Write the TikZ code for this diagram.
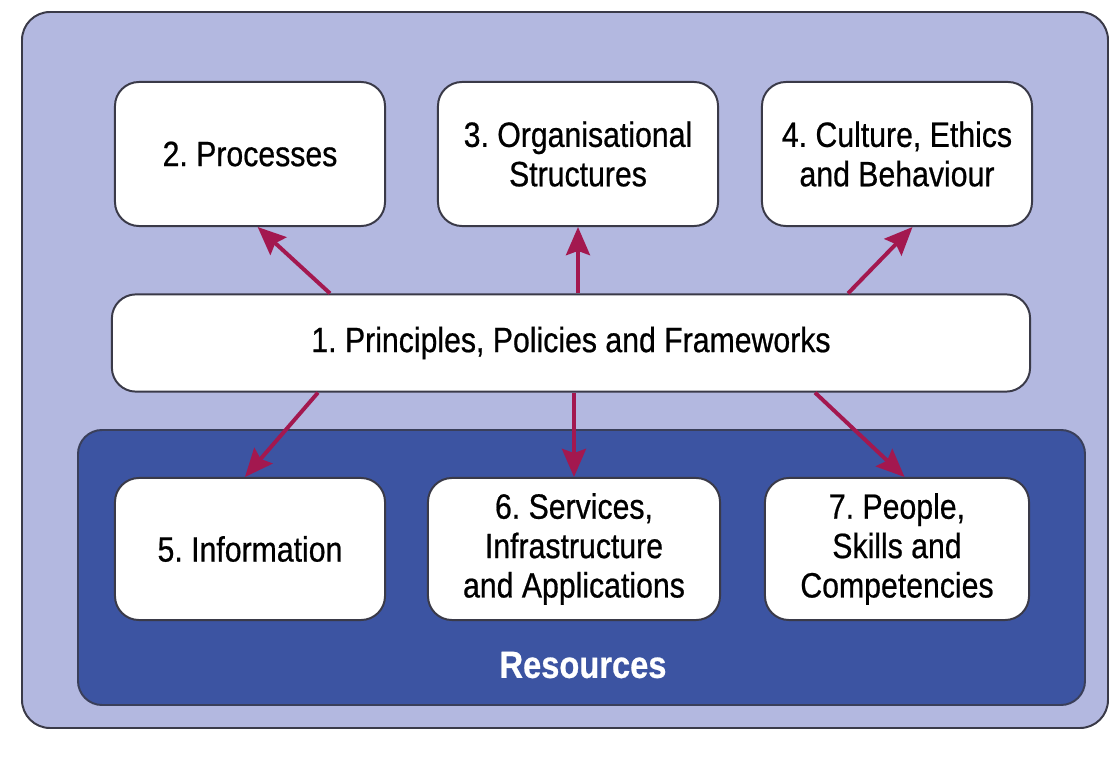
\documentclass[tikz,border=0pt]{standalone}
\usepackage{fontspec}
\setmainfont{Liberation Sans}[FakeStretch=0.86, FakeBold=0.6]
\usetikzlibrary{arrows.meta}
\frenchspacing

\definecolor{outerfill}{HTML}{B3B8E0}
\definecolor{resfill}{HTML}{3C54A2}
\definecolor{boxline}{HTML}{3A3A48}
\definecolor{linkcol}{HTML}{A3184F}

\begin{document}
\begin{tikzpicture}[x=0.025cm, y=-0.025cm,
  box/.style={draw=boxline, line width=1.4pt, fill=white, rounded corners=0.6cm,
    align=center, font=\fontsize{25}{28}\selectfont, inner sep=0pt},
  link/.style={draw=linkcol, line width=2.8pt,
    -{Stealth[length=20pt, width=17pt, inset=3pt]}}]

\useasboundingbox (0,0) rectangle (1114,762);

% Background panels
\draw[draw=boxline, line width=1.4pt, fill=outerfill, rounded corners=0.7cm]
  (22,12) rectangle (1108,728);
\draw[draw=boxline!80!resfill, line width=1.4pt, fill=resfill, rounded corners=0.6cm]
  (78,430) rectangle (1085,705);

% Top row
\node[box, minimum width=6.75cm, minimum height=3.6cm] (proc) at (250,154) {2. Processes};
\node[box, minimum width=7.0cm, minimum height=3.6cm] (org) at (578,154) {3. Organisational\\Structures};
\node[box, minimum width=6.75cm, minimum height=3.6cm] (cult) at (897,154) {4. Culture, Ethics\\and Behaviour};

% Middle bar
\node[box, minimum width=22.95cm, minimum height=2.43cm] (pri) at (571,343) {1. Principles, Policies and Frameworks};

% Resources row
\node[box, minimum width=6.75cm, minimum height=3.55cm] (info) at (250,549) {5. Information};
\node[box, minimum width=7.3cm, minimum height=3.55cm] (serv) at (574,549) {6. Services,\\Infrastructure\\and Applications};
\node[box, minimum width=6.6cm, minimum height=3.55cm] (peop) at (897,549) {7. People,\\Skills and\\Competencies};
\node[text=white, font=\fontsize{27}{30}\selectfont\bfseries] (res) at (583,665) {Resources};

% Arrows out of the principles bar
\draw[link] (pri.north -| 330,0) -- (proc.-84);
\draw[link] (pri.north -| org.south) -- (org.south);
\draw[link] (pri.north -| 848,0) -- (cult.-78);
\draw[link] (pri.south -| 318,0) -- (info.94);
\draw[link] (pri.south -| serv.north) -- (serv.north);
\draw[link] (pri.south -| 815,0) -- (peop.84);

\end{tikzpicture}
\end{document}
